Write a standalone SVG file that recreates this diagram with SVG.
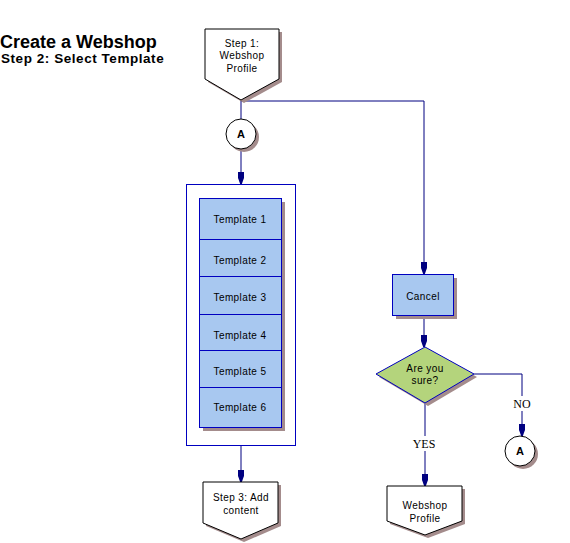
<svg xmlns="http://www.w3.org/2000/svg" width="570" height="543" viewBox="0 0 570 543">
<style>
text{font-family:"Liberation Sans",Arial,sans-serif;fill:#000}
.t{font-size:10px;text-anchor:middle;letter-spacing:0.4px}
.lbl{font-family:"Liberation Serif","Times New Roman",serif;font-size:12px;text-anchor:middle}
.shape{stroke:#000;stroke-width:1;fill:#fff}
.sh{fill:#a48c8c;stroke:none}
.blue{fill:#a8c8f0;stroke:#0000c0;stroke-width:1}
.con{fill:none;stroke:#000080;stroke-width:1}
</style>
<defs>
<marker id="arr" markerUnits="userSpaceOnUse" markerWidth="14" markerHeight="8" viewBox="-13 -4 14 8" refX="0" refY="0" orient="auto">
<path d="M-12,-3 H-6 L0,-0.8 V0.8 L-6,3 H-12 Z" fill="#000080"/>
</marker>
</defs>
<rect width="570" height="543" fill="#fff"/>
<g id="title">
<text x="0" y="48" font-size="18" font-weight="bold">Create a Webshop</text>
<text x="1" y="63" font-size="13.5" font-weight="bold" letter-spacing="0.55">Step 2: Select Template</text>
</g>
<g id="connectors">
<path class="con" d="M241,100 V119"/>
<path class="con" d="M241,101 H424 V274" marker-end="url(#arr)"/>
<path class="con" d="M241,148 V184" marker-end="url(#arr)"/>
<path class="con" d="M241,445 V482" marker-end="url(#arr)"/>
<path class="con" d="M424,315 V347" marker-end="url(#arr)"/>
<path class="con" d="M474,374 H522 V436" marker-end="url(#arr)"/>
<path class="con" d="M425,403 V486" marker-end="url(#arr)"/>
<rect x="510" y="396" width="24" height="15" fill="#fff"/>
<text class="lbl" x="522" y="408">NO</text>
<rect x="410" y="436" width="30" height="15" fill="#fff"/>
<text class="lbl" x="424" y="448">YES</text>
</g>
<g id="step1">
<path class="sh" d="M208,32 H282 V82 L244,103 L208,82 Z"/>
<path class="shape" d="M205,29 H279 V79 L241,100 L205,79 Z"/>
<text class="t" x="242" y="47">Step 1:</text>
<text class="t" x="242" y="59">Webshop</text>
<text class="t" x="242" y="72">Profile</text>
</g>
<g id="connA1">
<circle cx="244" cy="137" r="15" class="sh"/>
<circle cx="241" cy="134" r="15" class="shape"/>
<text x="241" y="138" font-size="11" font-weight="bold" text-anchor="middle">A</text>
</g>
<g id="templates">
<rect x="186.5" y="184.5" width="109" height="261" fill="#fff" stroke="#0000c0"/>
<rect x="203" y="202" width="82" height="229" class="sh"/>
<rect x="199.5" y="198.5" width="82" height="41" class="blue"/>
<rect x="199.5" y="239.5" width="82" height="37" class="blue"/>
<rect x="199.5" y="276.5" width="82" height="38" class="blue"/>
<rect x="199.5" y="314.5" width="82" height="36" class="blue"/>
<rect x="199.5" y="350.5" width="82" height="37" class="blue"/>
<rect x="199.5" y="387.5" width="82" height="40" class="blue"/>
<text class="t" x="240" y="223">Template 1</text>
<text class="t" x="240" y="264">Template 2</text>
<text class="t" x="240" y="301">Template 3</text>
<text class="t" x="240" y="339">Template 4</text>
<text class="t" x="240" y="375">Template 5</text>
<text class="t" x="240" y="411">Template 6</text>
</g>
<g id="step3">
<path class="sh" d="M206,485 H281 V526 L244,542 L206,526 Z"/>
<path class="shape" d="M203,482 H278 V523 L241,539 L203,523 Z"/>
<text class="t" x="241" y="501">Step 3: Add</text>
<text class="t" x="241" y="514">content</text>
</g>
<g id="cancel">
<rect x="396" y="278" width="61" height="41" class="sh"/>
<rect x="392.5" y="274.5" width="61" height="41" class="blue"/>
<text class="t" x="423" y="300">Cancel</text>
</g>
<g id="sure">
<path class="sh" d="M428,350 L477,377 L428,406 L379,377 Z"/>
<path d="M425,347 L474,374 L425,403 L376,374 Z" fill="#b4d47c" stroke="#0000c0"/>
<text class="t" x="425" y="372">Are you</text>
<text class="t" x="425" y="384">sure?</text>
</g>
<g id="connA2">
<circle cx="523" cy="454" r="15" class="sh"/>
<circle cx="520" cy="451" r="15" class="shape"/>
<text x="520" y="455" font-size="11" font-weight="bold" text-anchor="middle">A</text>
</g>
<g id="webshopProfile">
<path class="sh" d="M390,489 H465 V524 L428,538 L390,524 Z"/>
<path class="shape" d="M387,486 H462 V521 L425,535 L387,521 Z"/>
<text class="t" x="425" y="509">Webshop</text>
<text class="t" x="425" y="522">Profile</text>
</g>
</svg>
